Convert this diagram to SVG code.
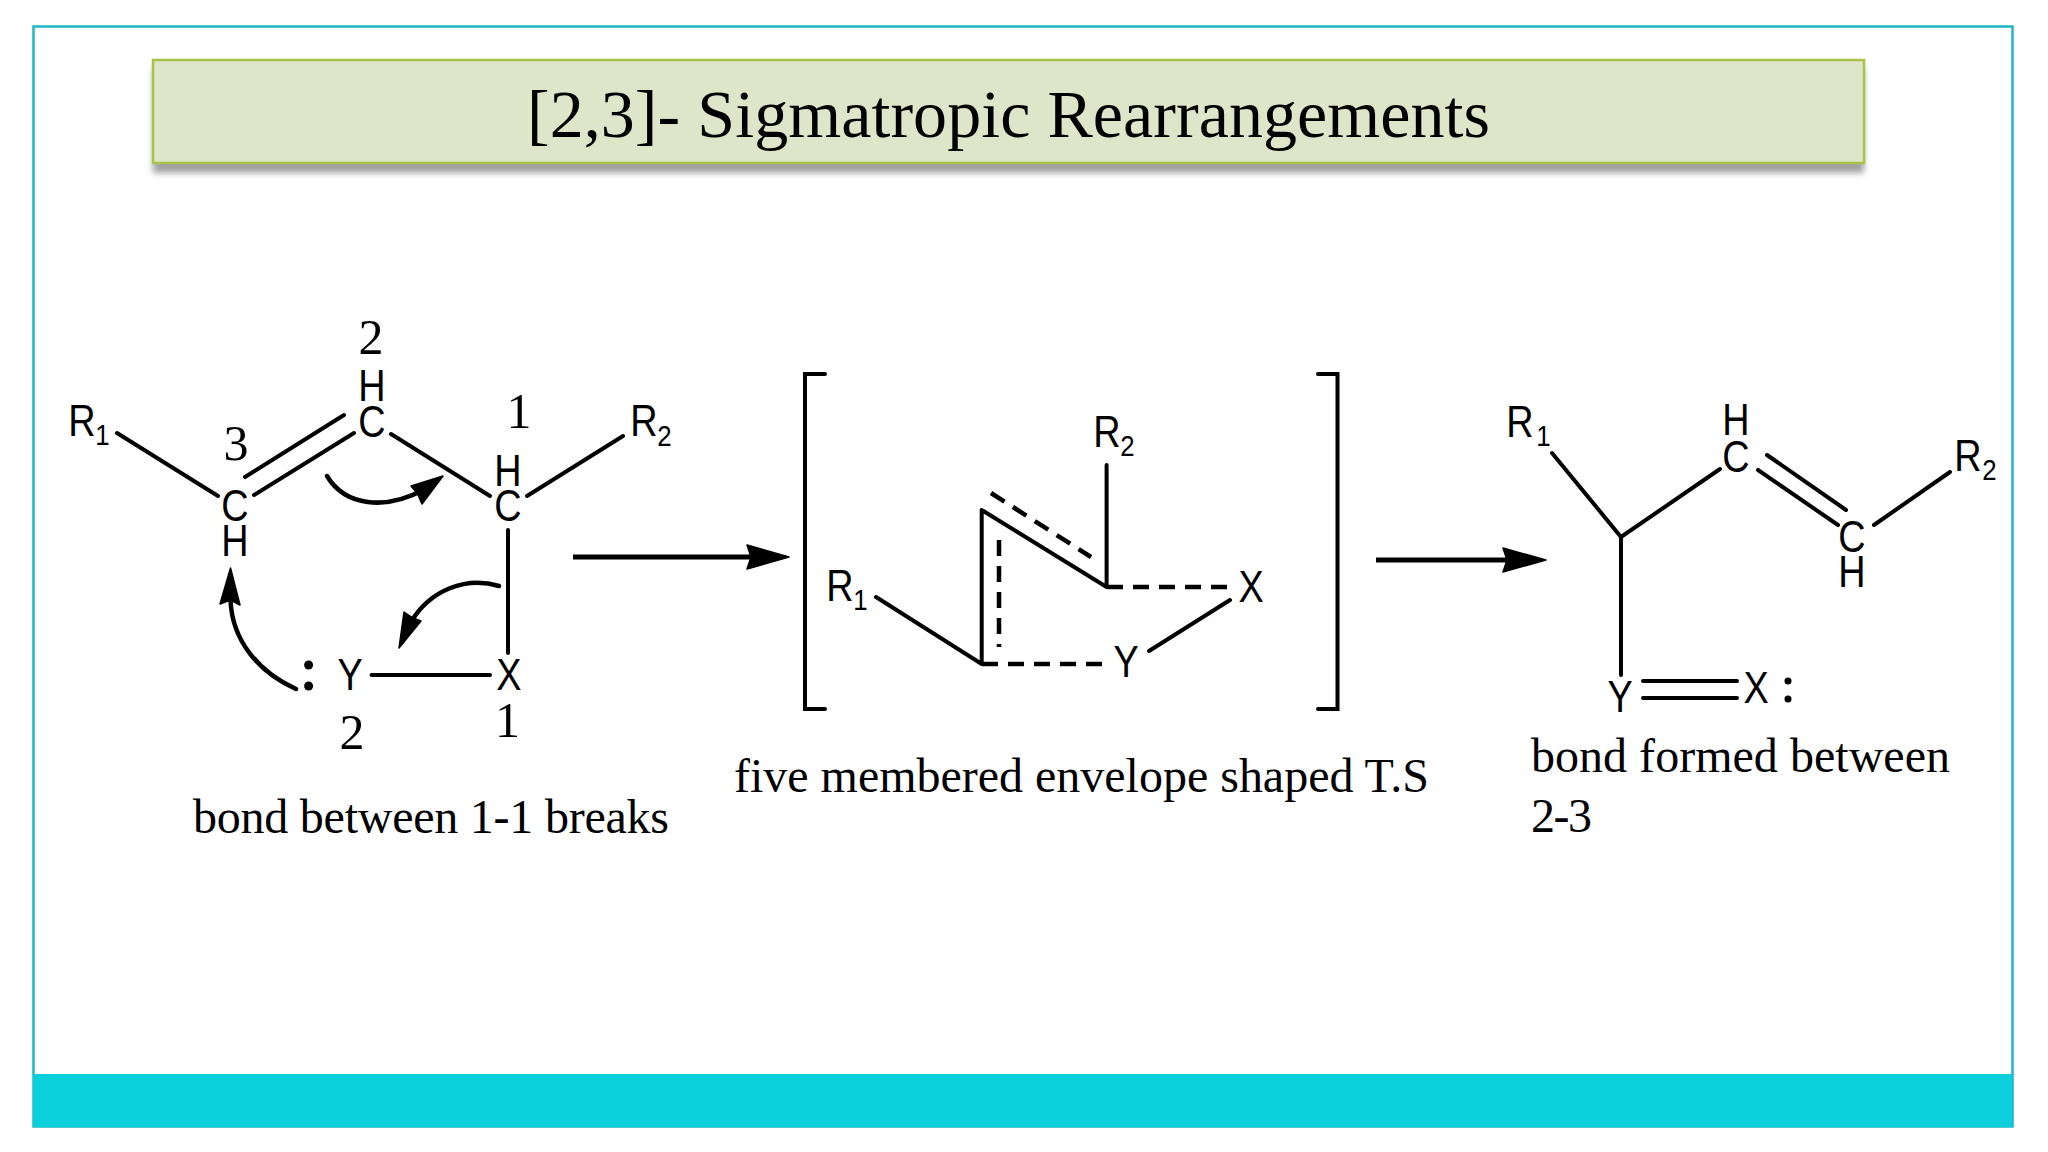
<svg xmlns="http://www.w3.org/2000/svg" width="2048" height="1152" viewBox="0 0 2048 1152">
<style>
.chem{font-family:"Liberation Sans",Arial,sans-serif;font-size:44px;fill:#000;transform-box:fill-box;transform-origin:center;transform:scaleX(.86)}
.mid{text-anchor:middle}
.sub{font-family:"Liberation Sans",Arial,sans-serif;font-size:30px;fill:#000;transform-box:fill-box;transform-origin:center;transform:scaleX(.86)}
.num{font-family:"Liberation Serif","Times New Roman",serif;font-size:50px;fill:#000;text-anchor:middle}
.cap{font-family:"Liberation Serif","Times New Roman",serif;font-size:48px;fill:#000}
.b{stroke:#000;stroke-width:4;fill:none;stroke-linecap:round}
.d{stroke:#000;stroke-width:4.5;fill:none;stroke-dasharray:16 10}
.curve{stroke:#000;stroke-width:4.5;fill:none;stroke-linecap:round}
.main{stroke:#000;stroke-width:5;fill:none}
.head{fill:#000;stroke:#000;stroke-width:1.5;stroke-linejoin:round}
</style>
<defs>
<filter id="sh" x="-5%" y="-30%" width="110%" height="160%"><feGaussianBlur stdDeviation="3"/></filter>
</defs>
<rect width="2048" height="1152" fill="#fff"/>
<g id="frame">
<rect x="33.5" y="26.5" width="1979" height="1100" fill="#fff" stroke="#1cb8c2" stroke-width="2.5"/>
<rect x="33" y="1074" width="1979" height="53" fill="#0bd0dc"/>
</g>
<g id="title">
<rect x="153" y="68" width="1711" height="105" fill="#a0a0a0" filter="url(#sh)"/>
<rect x="153" y="60" width="1711" height="103" fill="#dfe5c8" stroke="#a9c24a" stroke-width="2.5"/>
<text x="527" y="137" textLength="963" lengthAdjust="spacing" style="font-family:'Liberation Serif','Times New Roman',serif;font-size:68px;fill:#000">[2,3]- Sigmatropic Rearrangements</text>
</g>
<g id="connectors">
<path class="b" d="M117 433L218 496M245 477L344 415M254 495L354 433M391 434L490 496M527 496L623 436M508 530V653M371.5 675H490"/>
<path class="curve" d="M327 476C345 506 385 511 425 489"/>
<path class="head" d="M443 476L411 486L417 493L422 504Z"/>
<path class="curve" d="M499 586C466 576 430 590 411 622"/>
<path class="head" d="M399 648L404 612L413 618L421 621Z"/>
<path class="curve" d="M296 689C258 672 232 640 230.5 600"/>
<path class="head" d="M230.5 568L220 604L230.5 600L240 605Z"/>
<path class="main" d="M573 557H760"/>
<path class="head" d="M789 557L747 545L751 557L747 569Z"/>
<path class="b" d="M825 374H805V709H825M1318 374H1337.5V709H1318"/>
<path class="b" d="M1106.6 465V587M981.7 510L1106.6 587M981.7 510V664M876 597L981.7 664M1230 600L1149 651"/>
<path class="d" d="M991 493L1091 557M999 540V647M982 664H1108M1107 587H1233"/>
<path class="main" d="M1376 560H1520"/>
<path class="head" d="M1546 560L1503 548L1507 560L1503 572Z"/>
<path class="b" d="M1552 453L1621 537L1720 469M1621 537V675M1767 455L1846 510M1758 470L1838 525M1874 525L1950 472M1643 681H1737M1643 698H1737"/>
</g>
<g id="reactant">
<text class="chem" x="66" y="436">R</text><text class="sub" x="94" y="445">1</text>
<text class="chem mid" x="372" y="401">H</text><text class="chem mid" x="372" y="437">C</text>
<text class="chem mid" x="235" y="521">C</text><text class="chem mid" x="235" y="556">H</text>
<text class="chem mid" x="508" y="486">H</text><text class="chem mid" x="508" y="521">C</text>
<text class="chem" x="628" y="436">R</text><text class="sub" x="656" y="446">2</text>
<text class="chem mid" x="350" y="690">Y</text><text class="chem mid" x="509" y="690">X</text>
<circle cx="308.6" cy="665" r="4.5"/><circle cx="308.6" cy="686" r="4.5"/>
<text class="num" x="371" y="354">2</text><text class="num" x="519" y="428">1</text>
<text class="num" x="236" y="460">3</text><text class="num" x="352" y="749">2</text><text class="num" x="507.5" y="737">1</text>
<text class="cap" x="193" y="833" textLength="476" lengthAdjust="spacing">bond between 1-1 breaks</text>
</g>
<g id="transition-state">
<text class="chem" x="1091" y="447">R</text><text class="sub" x="1119" y="456">2</text>
<text class="chem" x="824" y="601">R</text><text class="sub" x="852" y="610">1</text>
<text class="chem mid" x="1251" y="602">X</text><text class="chem mid" x="1126" y="677">Y</text>
<text class="cap" x="734" y="792" textLength="695" lengthAdjust="spacing">five membered envelope shaped T.S</text>
</g>
<g id="product">
<text class="chem" x="1504" y="437">R</text><text class="sub" x="1535" y="446">1</text>
<text class="chem mid" x="1736" y="435">H</text><text class="chem mid" x="1736" y="472">C</text>
<text class="chem mid" x="1852" y="552">C</text><text class="chem mid" x="1852" y="587">H</text>
<text class="chem" x="1952" y="471">R</text><text class="sub" x="1981" y="480">2</text>
<text class="chem mid" x="1620" y="712">Y</text><text class="chem mid" x="1756" y="703">X</text>
<circle cx="1788" cy="681" r="3.5"/><circle cx="1788" cy="699" r="3.5"/>
<text class="cap" x="1531" y="772" textLength="419" lengthAdjust="spacing">bond formed between</text>
<text class="cap" x="1531" y="832" textLength="61" lengthAdjust="spacing">2-3</text>
</g>
</svg>
